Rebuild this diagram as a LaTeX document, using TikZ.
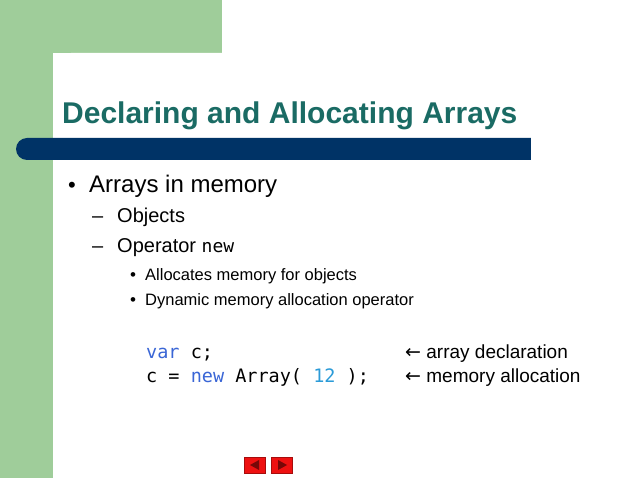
\documentclass[tikz,border=0pt]{standalone}
\usepackage{fontspec}
\usetikzlibrary{calc}
\setmainfont{Liberation Sans}
\setmonofont{DejaVu Sans Mono}
\newfontfamily\dejavu{DejaVu Sans}
\definecolor{gr}{HTML}{9FCD9A}
\definecolor{teal}{HTML}{1A6B64}
\definecolor{navy}{HTML}{003366}
\definecolor{kw}{HTML}{3A66D6}
\definecolor{num}{HTML}{2B9BD8}
\definecolor{btn}{HTML}{EE1111}
\tikzset{txt/.style={anchor=base west,inner sep=0pt},
  fs/.style={font=\fontsize{#1}{#1}\selectfont}}
\begin{document}
\begin{tikzpicture}[x=1pt,y=-1pt]
\useasboundingbox (0,0) rectangle (638,478);
\fill[white] (0,0) rectangle (638,478);
\fill[gr] (0,0) rectangle (222,53);
\fill[gr] (0,0) rectangle (53,478);
\fill[white,rounded corners=18pt] (53,53) rectangle (700,520);
\fill[navy,rounded corners=11pt] (16,138) rectangle (560,160);
\fill[white] (531,130) rectangle (638,170);
\node[txt,text=teal,font=\fontsize{30}{30}\bfseries\selectfont] (title) at (62,124) {Declaring and Allocating Arrays};
\node[txt,fs=22] (b1) at (68,193) {\textbullet};
\node[txt,fs=24] (l1) at (89,193) {Arrays in memory};
\node[txt,fs=20] (d1) at (92,223) {–};
\node[txt,fs=20] (l2) at (117,223) {Objects};
\node[txt,fs=20] (d2) at (92,253) {–};
\node[txt,fs=20] (l3) at (117,253) {Operator {\fontsize{18}{18}\ttfamily new}};
\node[txt,fs=17] (b2) at (130,281) {\textbullet};
\node[txt,fs=16.5] (l4) at (145,281) {Allocates memory for objects};
\node[txt,fs=17] (b3) at (130,306) {\textbullet};
\node[txt,fs=16.5] (l5) at (145,306) {Dynamic memory allocation operator};
\node[txt,font=\ttfamily\fontsize{18.5}{18.5}\selectfont] (c1) at (146,359) {\textcolor{kw}{var} c;};
\node[txt,font=\ttfamily\fontsize{18.5}{18.5}\selectfont] (c2) at (146,383) {c = \textcolor{kw}{new} Array( \textcolor{num}{12} );};
\node[txt,fs=19] (a1) at (405,359) {{\dejavu ←} array declaration};
\node[txt,fs=19] (a2) at (405,383) {{\dejavu ←} memory allocation};
\node[draw=btn!70!black,fill=btn,minimum width=21pt,minimum height=16pt,inner sep=0pt] (prev) at (255,465) {};
\node[draw=btn!70!black,fill=btn,minimum width=21pt,minimum height=16pt,inner sep=0pt] (next) at (282,465) {};
\fill[btn!50!black] ($(prev)+(-5,0)$) -- ($(prev)+(4,-5)$) -- ($(prev)+(4,5)$) -- cycle;
\fill[btn!50!black] ($(next)+(5,0)$) -- ($(next)+(-4,-5)$) -- ($(next)+(-4,5)$) -- cycle;
\end{tikzpicture}
\end{document}
